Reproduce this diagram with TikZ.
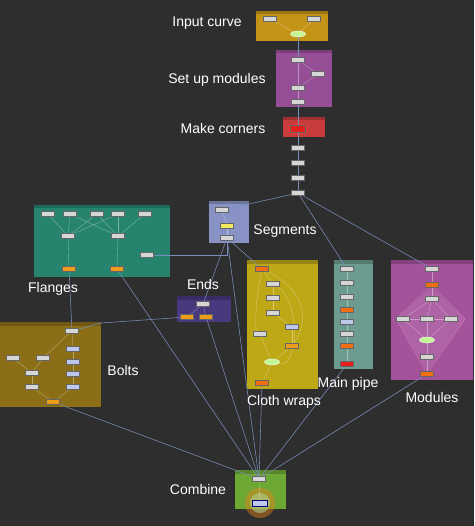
\documentclass[tikz,border=0pt]{standalone}
\usepackage{fontspec}
\setmainfont{Liberation Sans}
\usetikzlibrary{shapes.geometric}
\definecolor{bg}{RGB}{46,46,46}
\definecolor{cInput}{RGB}{196,148,22}
\definecolor{cSetup}{RGB}{150,78,150}
\definecolor{cCorner}{RGB}{200,60,60}
\definecolor{cFlange}{RGB}{38,132,110}
\definecolor{cSeg}{RGB}{136,146,196}
\definecolor{cEnds}{RGB}{72,56,126}
\definecolor{cCloth}{RGB}{190,168,22}
\definecolor{cPipe}{RGB}{108,156,144}
\definecolor{cMod}{RGB}{164,82,156}
\definecolor{cBolt}{RGB}{140,110,22}
\definecolor{cComb}{RGB}{110,168,52}
\definecolor{wire}{RGB}{120,142,186}
\definecolor{ndgrey}{RGB}{214,214,214}
\definecolor{ndorange}{RGB}{236,158,24}
\definecolor{ndgreen}{RGB}{196,246,150}
\definecolor{ndred}{RGB}{230,30,30}
\definecolor{ndblue}{RGB}{190,200,235}
\pgfdeclarelayer{boxes}
\pgfdeclarelayer{wires}
\pgfsetlayers{boxes,wires,main}
\tikzset{
  nd/.style={rectangle, fill=ndgrey, draw=black!60, line width=0.3pt, minimum width=13pt, minimum height=5pt, inner sep=0pt},
  ndo/.style={nd, fill=ndorange},
  ndr/.style={nd, fill=ndred},
  ndb/.style={nd, fill=ndblue},
  ndg/.style={ellipse, fill=ndgreen, draw=white, line width=0.3pt, minimum width=15pt, minimum height=6pt, inner sep=0pt},
  ext/.style={draw=wire, line width=0.55pt},
  inw/.style={draw=white, opacity=0.38, line width=0.4pt},
  lbl/.style={text=white, font=\fontsize{14}{16}\selectfont, inner sep=0pt},
}
\newcommand\netbox[5]{% color x1 y1 x2 y2
  \fill[#1] (#2,#3) rectangle (#4,#5);
  \fill[#1!80!black] (#2,#3) rectangle (#4,#3+3.5);
}
\begin{document}
\begin{tikzpicture}[x=1pt,y=-1pt]
\useasboundingbox (0,0) rectangle (474,526);

\begin{pgfonlayer}{boxes}
\fill[bg] (0,0) rectangle (474,526);
\netbox{cInput}{256}{11}{328}{41}
\netbox{cSetup}{276}{50}{332}{107}
\netbox{cCorner}{283}{117}{325}{137}
\netbox{cFlange}{34}{205}{170}{277}
\netbox{cSeg}{209}{201}{249}{243}
\netbox{cEnds}{177}{296}{231}{322}
\netbox{cCloth}{247}{260}{318}{389}
\netbox{cPipe}{334}{260}{373}{369}
\netbox{cMod}{391}{260}{473}{380}
\netbox{cBolt}{0}{322}{101}{407}
\netbox{cComb}{235}{470}{286}{509}
% modules bypass region
\fill[white, opacity=0.1] (432,287) -- (396,319) -- (427,372) -- (465,319) -- cycle;
% combine glow
\fill[orange!60!brown, opacity=0.45] (260,503) circle (15);
\fill[cComb!55!white, opacity=0.6] (260,503) circle (10);
% make corners glow
\fill[red!80!white, opacity=0.5] (298,129) ellipse (11 and 6);
\end{pgfonlayer}

% Input curve
\node[nd] (ic1) at (270,19) {};
\node[nd] (ic2) at (314,19) {};
\node[ndg] (ic3) at (298,34) {};
% Set up modules
\node[nd] (su1) at (298,60) {};
\node[nd] (su2) at (318,74) {};
\node[nd] (su3) at (298,88) {};
\node[nd] (su4) at (298,102) {};
% Make corners
\node[ndr, minimum width=15pt, minimum height=7pt] (mc1) at (298,129) {};
% chain
\node[nd] (ch1) at (298,148) {};
\node[nd] (ch2) at (298,163) {};
\node[nd] (ch3) at (298,178) {};
\node[nd] (ch4) at (298,193) {};
% Flanges
\node[nd] (ft1) at (48,214) {};
\node[nd] (ft2) at (70,214) {};
\node[nd] (ft3) at (97,214) {};
\node[nd] (ft4) at (118,214) {};
\node[nd] (ft5) at (145,214) {};
\node[nd] (fm1) at (68,236) {};
\node[nd] (fm2) at (118,236) {};
\node[nd] (fr) at (147,255) {};
\node[ndo] (fo1) at (69,269) {};
\node[ndo] (fo2) at (117,269) {};
% Segments
\node[nd] (sg1) at (222,210) {};
\node[nd, fill=yellow!60!ndgrey] (sg2) at (227,226) {};
\node[nd] (sg3) at (227,238) {};
% Ends
\node[nd] (en1) at (203,304) {};
\node[ndo] (eo1) at (187,317) {};
\node[ndo] (eo2) at (206,317) {};
% Cloth wraps
\node[ndo, fill=ndorange!70!red] (cw1) at (262,269) {};
\node[nd] (cw2) at (273,284) {};
\node[nd] (cw3) at (273,298) {};
\node[nd] (cw4) at (273,313) {};
\node[ndb] (cw5) at (292,327) {};
\node[nd] (cw6) at (260,334) {};
\node[ndo] (cw7) at (292,346) {};
\node[ndg] (cw8) at (272,362) {};
\node[ndo, fill=ndorange!70!red] (cw9) at (262,383) {};
% Main pipe
\node[nd] (mp1) at (347,269) {};
\node[nd] (mp2) at (347,283) {};
\node[nd] (mp3) at (347,297) {};
\node[ndo, fill=ndorange!70!red] (mp4) at (347,310) {};
\node[ndb] (mp5) at (347,322) {};
\node[nd] (mp6) at (347,334) {};
\node[ndo, fill=ndorange!70!red] (mp7) at (347,346) {};
\node[ndr] (mp8) at (347,364) {};
% Modules
\node[nd] (mo1) at (432,269) {};
\node[ndo, fill=ndorange!70!red] (mo2) at (432,285) {};
\node[nd] (mo3) at (432,299) {};
\node[nd] (mr1) at (403,319) {};
\node[nd] (mr2) at (427,319) {};
\node[nd] (mr3) at (451,319) {};
\node[ndg] (mo4) at (427,340) {};
\node[nd] (mo5) at (427,357) {};
\node[ndo, fill=ndorange!70!red] (mo6) at (427,374) {};
\coordinate (mol) at (396,319);
\coordinate (mor) at (465,319);
% Bolts
\node[nd] (bo1) at (72,331) {};
\node[ndb] (bo2) at (73,349) {};
\node[ndb] (bo3) at (73,362) {};
\node[ndb] (bo4) at (73,374) {};
\node[ndb] (bo5) at (73,387) {};
\node[nd] (bl1) at (13,358) {};
\node[nd] (bl2) at (43,358) {};
\node[nd] (bm) at (32,373) {};
\node[nd] (bn) at (32,387) {};
\node[ndo] (bout) at (53,402) {};
% Combine
\node[nd] (cb1) at (259,479) {};
\node[nd, fill=ndblue, draw=blue!50!black, minimum width=15pt, minimum height=6pt] (cb2) at (260,503) {};
\coordinate (endsbend) at (101,323);

\begin{pgfonlayer}{wires}
% main chain
\draw[inw] (ic1) -- (ic3); \draw[inw] (ic2) -- (ic3);
\draw[ext] (ic3) -- (su1);
\draw[inw] (su1) -- (su2); \draw[inw] (su1) -- (su3); \draw[inw] (su2) -- (su3); \draw[inw] (su3) -- (su4);
\draw[ext] (su4) -- (mc1);
\draw[ext] (mc1) -- (ch1); \draw[ext] (ch1) -- (ch2); \draw[ext] (ch2) -- (ch3); \draw[ext] (ch3) -- (ch4);
\draw[ext] (ch4) -- (sg1);
\draw[ext] (ch4) -- (mp1);
\draw[ext] (ch4) -- (mo1);
% segments
\draw[inw] (sg1) -- (sg2); \draw[inw] (sg2) -- (sg3);
\draw[ext] (sg3) |- (fr);
\draw[ext] (sg3) -- (en1);
\draw[ext] (sg3) -- (cw1);
\draw[ext] (sg3) -- (cb1);
% flanges
\draw[inw] (ft1) -- (fm1); \draw[inw] (ft2) -- (fm1); \draw[inw] (ft3) -- (fm1); \draw[inw] (ft4) -- (fm1);
\draw[inw] (ft2) -- (fm2); \draw[inw] (ft3) -- (fm2); \draw[inw] (ft4) -- (fm2); \draw[inw] (ft5) -- (fm2);
\draw[inw] (fm1) -- (fo1); \draw[inw] (fm2) -- (fo2);
\draw[ext] (fo1) -- (bo1);
\draw[ext] (fo2) -- (cb1);
% ends
\draw[inw] (en1) -- (eo1); \draw[inw] (en1) -- (eo2);
\draw[ext] (eo1) -- (endsbend) -- (bo1);
\draw[ext] (eo2) -- (cb1);
% bolts
\draw[inw] (bo1) -- (bo2); \draw[inw] (bo2) -- (bo3); \draw[inw] (bo3) -- (bo4); \draw[inw] (bo4) -- (bo5);
\draw[inw] (bo1) -- (bl2); \draw[inw] (bl1) -- (bm); \draw[inw] (bl2) -- (bm); \draw[inw] (bm) -- (bn);
\draw[inw] (bo5) -- (bout); \draw[inw] (bn) -- (bout);
\draw[ext] (bout) -- (cb1);
% cloth wraps
\draw[inw] (cw1) -- (cw2); \draw[inw] (cw2) -- (cw3); \draw[inw] (cw3) -- (cw4); \draw[inw] (cw4) -- (cw5);
\draw[inw] (cw5) -- (cw7); \draw[inw] (cw7) -- (cw8); \draw[inw] (cw6) -- (cw8); \draw[inw] (cw8) -- (cw9);
\draw[inw] (cw1) .. controls (305,290) and (310,320) .. (cw7);
\draw[inw] (cw1) .. controls (255,300) and (255,330) .. (cw6);
\draw[inw] (cw8) .. controls (300,370) and (300,300) .. (cw2);
\draw[ext] (cw9) -- (cb1);
% main pipe
\draw[inw] (mp1) -- (mp2); \draw[inw] (mp2) -- (mp3); \draw[inw] (mp3) -- (mp4); \draw[inw] (mp4) -- (mp5);
\draw[inw] (mp5) -- (mp6); \draw[inw] (mp6) -- (mp7); \draw[inw] (mp7) -- (mp8);
\draw[ext] (mp8) -- (cb1);
% modules
\draw[inw] (mo1) -- (mo2); \draw[inw] (mo2) -- (mo3);
\draw[inw] (mo3) -- (mr1); \draw[inw] (mo3) -- (mr2); \draw[inw] (mo3) -- (mr3);
\draw[inw] (mr1) -- (mr2); \draw[inw] (mr2) -- (mr3);
\draw[inw] (mr1) -- (mo4); \draw[inw] (mr2) -- (mo4); \draw[inw] (mr3) -- (mo4);
\draw[inw] (mo4) -- (mo5); \draw[inw] (mo5) -- (mo6);
\draw[inw, draw=pink] (mo2) -- (mol) -- (mo6);
\draw[inw, draw=pink] (mo2) -- (mor) -- (mo6);
\draw[ext] (mo6) -- (cb1);
% combine
\draw[inw] (cb1) -- (cb2);
\end{pgfonlayer}

% labels
\node[lbl] (l1) at (207,23) {Input curve};
\node[lbl] (l2) at (217,80) {Set up modules};
\node[lbl] (l3) at (223,128) {Make corners};
\node[lbl] (l4) at (285,231) {Segments};
\node[lbl] (l5) at (53,289) {Flanges};
\node[lbl] (l6) at (203,284) {Ends};
\node[lbl] (l7) at (123,370) {Bolts};
\node[lbl] (l8) at (284,402) {Cloth wraps};
\node[lbl] (l9) at (348,384) {Main pipe};
\node[lbl] (l10) at (432,397) {Modules};
\node[lbl] (l11) at (198,489) {Combine};
\end{tikzpicture}
\end{document}
